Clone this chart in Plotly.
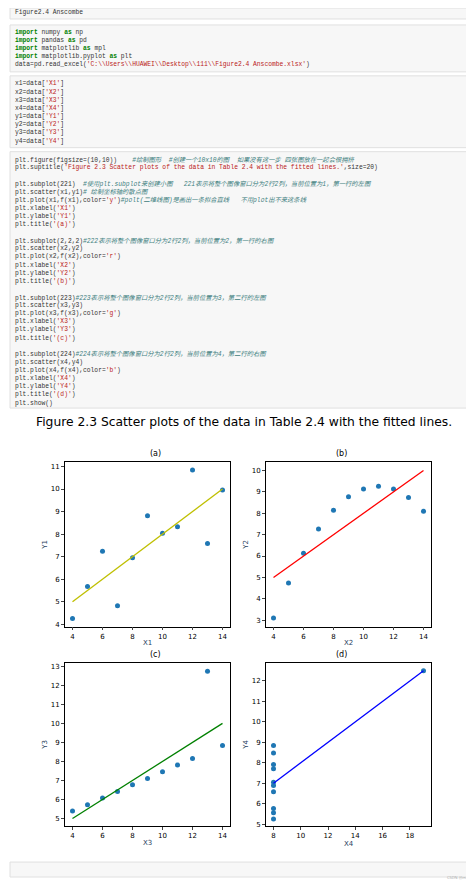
import plotly.graph_objects as go

x123 = [10, 8, 13, 9, 11, 14, 6, 4, 12, 7, 5]
y1 = [8.04, 6.95, 7.58, 8.81, 8.33, 9.96, 7.24, 4.26, 10.84, 4.82, 5.68]
y2 = [9.14, 8.14, 8.74, 8.77, 9.26, 8.10, 6.13, 3.10, 9.13, 7.26, 4.74]
y3 = [7.46, 6.77, 12.74, 7.11, 7.81, 8.84, 6.08, 5.39, 8.15, 6.42, 5.73]
x4 = [8, 8, 8, 8, 8, 8, 8, 19, 8, 8, 8]
y4 = [6.58, 5.76, 7.71, 8.84, 8.47, 7.04, 5.25, 12.50, 5.56, 7.91, 6.89]
fit_a, fit_b = 3.0, 0.5
panels = [("(a)", x123, y1, "#bfbf00", "X1", "Y1", [3.5, 14.5], [3.9, 11.2], list(range(4, 12))),
          ("(b)", x123, y2, "red", "X2", "Y2", [3.5, 14.5], [2.7, 10.4], list(range(3, 11))),
          ("(c)", x123, y3, "green", "X3", "Y3", [3.5, 14.5], [4.6, 13.2], list(range(5, 14))),
          ("(d)", x4, y4, "blue", "X4", "Y4", [7.45, 19.55], [4.9, 12.9], list(range(5, 13)))]

W, H = 474, 881
fig = go.Figure()
boxes = [(57, 222, 455, 620), (258, 423, 455, 620), (57, 222, 656, 820), (258, 423, 656, 820)]
for i, (p, (title, xs, ys, col, xl, yl, xr, yr, yt)) in enumerate(zip(boxes, panels)):
    n = "" if i == 0 else str(i + 1)
    x0, x1, t, b = p
    fig.add_trace(go.Scatter(x=xs, y=ys, mode="markers", marker=dict(color="#1f77b4", size=5),
                             xaxis="x" + n, yaxis="y" + n, showlegend=False))
    lx = [min(xs), max(xs)]
    fig.add_trace(go.Scatter(x=lx, y=[fit_a + fit_b * v for v in lx], mode="lines",
                             line=dict(color=col, width=1.3), xaxis="x" + n, yaxis="y" + n, showlegend=False))
    ax = dict(domain=[x0 / W, x1 / W], range=xr, dtick=2, showgrid=False, zeroline=False,
              showline=True, mirror=True, linecolor="black", linewidth=0.8, ticks="outside", ticklen=3,
              tickfont=dict(size=7, family="DejaVu Sans", color="black"),
              title=dict(text=xl, font=dict(size=7, family="DejaVu Sans"), standoff=0),
              anchor="y" + n)
    ay = dict(domain=[1 - b / H, 1 - t / H], range=yr, tickvals=yt, showgrid=False, zeroline=False,
              showline=True, mirror=True, linecolor="black", linewidth=0.8, ticks="outside", ticklen=3,
              tickfont=dict(size=7, family="DejaVu Sans", color="black"),
              title=dict(text=yl, font=dict(size=7, family="DejaVu Sans"), standoff=2),
              anchor="x" + n)
    fig.layout["xaxis" + n] = ax
    fig.layout["yaxis" + n] = ay
    fig.add_annotation(x=(x0 + x1) / 2 / W, y=1 - (t - 2) / H, xref="paper", yref="paper", text=title,
                       showarrow=False, yanchor="bottom",
                       font=dict(size=8, family="DejaVu Sans", color="black"))

K = lambda s: f"<span style='color:#008000'><b>{s}</b></span>"
S = lambda s: f"<span style='color:#ba2121'>{s}</span>"
C = lambda s: f"<span style='color:#408080'><i>{s}</i></span>"

lines = [
    (5, "Figure2.4 Anscombe"),
    (25, K("import") + " numpy " + K("as") + " np"),
    (33, K("import") + " pandas " + K("as") + " pd"),
    (41, K("import") + " matplotlib " + K("as") + " mpl"),
    (49, K("import") + " matplotlib.pyplot " + K("as") + " plt"),
    (57, "data=pd.read_excel(" + S("'C:\\\\Users\\\\HUAWEI\\\\Desktop\\\\111\\\\Figure2.4 Anscombe.xlsx'") + ")"),
]
yy = 76
for v in ["x1", "x2", "x3", "x4", "y1", "y2", "y3", "y4"]:
    lines.append((yy, f"{v}=data[" + S(f"'{v.upper()}'") + "]"))
    yy += 8.2
cell3 = [
    "plt.figure(figsize=(10,10))    " + C("#绘制图形  #创建一个10x10的图  如果没有这一步 四张图放在一起会很拥挤"),
    "plt.suptitle(" + S("'Figure 2.3 Scatter plots of the data in Table 2.4 with the fitted lines.'") + ",size=20)",
    "",
    "plt.subplot(221)  " + C("#使用plt.subplot来创建小图   221表示将整个图像窗口分为2行2列，当前位置为1，第一行的左图"),
    "plt.scatter(x1,y1)" + C("# 绘制坐标轴的散点图"),
    "plt.plot(x1,f(x1),color=" + S("'y'") + ")" + C("#polt(二维线图)是画出一条拟合直线   不用plot出不来这条线"),
    "plt.xlabel(" + S("'X1'") + ")", "plt.ylabel(" + S("'Y1'") + ")", "plt.title(" + S("'(a)'") + ")", "",
    "plt.subplot(2,2,2)" + C("#222表示将整个图像窗口分为2行2列，当前位置为2，第一行的右图"),
    "plt.scatter(x2,y2)", "plt.plot(x2,f(x2),color=" + S("'r'") + ")",
    "plt.xlabel(" + S("'X2'") + ")", "plt.ylabel(" + S("'Y2'") + ")", "plt.title(" + S("'(b)'") + ")", "",
    "plt.subplot(223)" + C("#223表示将整个图像窗口分为2行2列，当前位置为3，第二行的左图"),
    "plt.scatter(x3,y3)", "plt.plot(x3,f(x3),color=" + S("'g'") + ")",
    "plt.xlabel(" + S("'X3'") + ")", "plt.ylabel(" + S("'Y3'") + ")", "plt.title(" + S("'(c)'") + ")", "",
    "plt.subplot(224)" + C("#224表示将整个图像窗口分为2行2列，当前位置为4，第二行的右图"),
    "plt.scatter(x4,y4)", "plt.plot(x4,f(x4),color=" + S("'b'") + ")",
    "plt.xlabel(" + S("'X4'") + ")", "plt.ylabel(" + S("'Y4'") + ")", "plt.title(" + S("'(d)'") + ")",
    "plt.show()",
]
yy = 152
for l in cell3:
    if l:
        lines.append((yy, l))
    yy += 8.13
for y, txt in lines:
    fig.add_annotation(x=5 / W, y=1 - y / H, xref="paper", yref="paper", text=txt, showarrow=False,
                       xanchor="left", yanchor="middle",
                       font=dict(size=6.3, family="Liberation Mono, Noto Sans CJK SC", color="#333"))

shapes = []
for (t, b) in [(0, 11), (17, 64), (68, 140), (144, 401), (856, 871)]:
    shapes.append(dict(type="rect", xref="paper", yref="paper", x0=2 / W, x1=472 / W, y0=1 - b / H, y1=1 - t / H,
                       fillcolor="#f7f7f7", line=dict(color="#e0e0e0", width=1), layer="below"))
fig.update_layout(shapes=shapes)
fig.add_annotation(x=236 / W, y=1 - 415 / H, xref="paper", yref="paper", showarrow=False,
                   text="Figure 2.3 Scatter plots of the data in Table 2.4 with the fitted lines.",
                   font=dict(size=12.3, family="DejaVu Sans", color="black"))
fig.add_annotation(x=470 / W, y=1 - 876 / H, xref="paper", yref="paper", showarrow=False, xanchor="right",
                   text="CSDN @mk135", font=dict(size=4, color="#aaa"))

fig.update_layout(width=W, height=H, margin=dict(l=0, r=0, t=0, b=0), paper_bgcolor="white",
                  plot_bgcolor="white")
fig.write_html("out.html")
